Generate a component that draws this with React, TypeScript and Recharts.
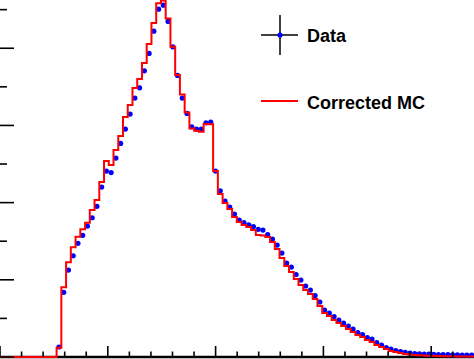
import { ComposedChart, Customized, Line, XAxis, YAxis } from "recharts";

// histogram binning (x axis units)
const BIN_WIDTH = 4.4;
const FIRST_BIN_CENTER = 54.7;
const EMPTY_BINS_BEFORE = 12;
const X_MAX = 439.7;
const Y_MAX = 9250;

const xMajorTicks = [0, 100, 200, 300, 400];
const xMinorTicks = [
  20, 40, 60, 80, 120, 140, 160, 180, 220, 240, 260, 280, 320, 340, 360, 380,
  420,
];
const yMajorTicks = [0, 2000, 4000, 6000, 8000];
const yMinorTicks = [1000, 3000, 5000, 7000, 9000];

// bin contents, first non-empty bin onwards
const correctedMC = [
  241, 1805, 2453, 2841, 3116, 3307, 3478, 3807, 4066, 4532, 5076, 4973, 5361,
  5724, 6216, 6527, 6967, 7200, 7615, 8107, 8651, 9169, 9235, 8773, 8037, 7304,
  6804, 6338, 5923, 5861, 5835, 6035, 6030, 4817, 4222, 3989, 3833, 3626, 3497,
  3419, 3367, 3289, 3160, 3150, 3108, 2979, 2797, 2564, 2357, 2202, 2020, 1865,
  1735, 1632, 1502, 1321, 1140, 1062, 958, 881, 803, 725, 648, 570, 518, 440,
  389, 311, 259, 207, 155, 130, 104, 78, 65, 52, 45, 39, 35, 30, 26, 22, 20, 18,
  15, 13, 12, 11,
];

const dataCounts = [
  259, 1676, 2253, 2624, 2945, 3152, 3393, 3608, 3903, 4403, 4817, 4779, 5154,
  5535, 5905, 6294, 6708, 6975, 7415, 7866, 8443, 9013, 9117, 8695, 8037, 7296,
  6708, 6312, 5965, 5905, 5905, 6068, 6087, 4817, 4307, 4040, 3885, 3704, 3548,
  3484, 3424, 3380, 3307, 3289, 3173, 3056, 2901, 2694, 2435, 2331, 2137, 1994,
  1839, 1735, 1593, 1425, 1217, 1140, 1049, 958, 881, 803, 725, 635, 583, 505,
  466, 376, 311, 246, 207, 168, 142, 122, 104, 91, 83, 78, 73, 67, 65, 62, 60,
  57, 54, 52, 52, 50,
];

type Row = { x: number; mc: number; data: number | null };

const rows: Row[] = [{ x: 0, mc: 0, data: null }];
for (let i = -EMPTY_BINS_BEFORE; i < correctedMC.length; i++) {
  rows.push({
    x: FIRST_BIN_CENTER + i * BIN_WIDTH,
    mc: i < 0 ? 0 : correctedMC[i],
    data: i < 0 ? null : dataCounts[i] ?? null,
  });
}
rows.push({ x: X_MAX, mc: correctedMC[correctedMC.length - 1], data: null });

const FONT = "'Liberation Sans', Arial, Helvetica, sans-serif";

// ROOT-style ticks: drawn inside the frame, long for major, short for minor
function XTick(props: any) {
  const { x, y, payload } = props;
  const len = xMajorTicks.includes(payload.value) ? 11 : 5.5;
  return <line x1={x} x2={x} y1={y} y2={y - len} stroke="#000" strokeWidth={1.6} />;
}

function YTick(props: any) {
  const { x, y, payload } = props;
  const len = yMajorTicks.includes(payload.value) ? 14 : 7;
  return <line x1={x} x2={x + len} y1={y} y2={y} stroke="#000" strokeWidth={1.6} />;
}

function LegendBox() {
  return (
    <g fontFamily={FONT} fontWeight="bold" fontSize={18} fill="#000">
      <line x1={261} x2={298} y1={35} y2={35} stroke="#000" strokeWidth={1.5} />
      <line x1={280} x2={280} y1={15} y2={55} stroke="#000" strokeWidth={1.5} />
      <circle cx={280} cy={35} r={2.6} fill="#0000ff" />
      <text x={307} y={42}>
        Data
      </text>
      <line x1={261} x2={298} y1={101} y2={101} stroke="#ff0000" strokeWidth={2} />
      <text x={307} y={108.5}>
        Corrected MC
      </text>
    </g>
  );
}

export default function App() {
  return (
    <div
      style={{
        position: "fixed",
        left: 0,
        top: 0,
        width: 474,
        height: 359,
        background: "#fff",
      }}
    >
      <ComposedChart
        width={474}
        height={359}
        data={rows}
        margin={{ top: 0, right: 0, bottom: 2, left: 0 }}
      >
        <XAxis
          dataKey="x"
          type="number"
          domain={[0, X_MAX]}
          ticks={[...xMajorTicks, ...xMinorTicks]}
          interval={0}
          tick={XTick}
          tickLine={false}
          tickSize={0}
          tickMargin={0}
          mirror
          height={20}
          axisLine={{ stroke: "#000", strokeWidth: 2.5 }}
        />
        <YAxis
          type="number"
          domain={[0, Y_MAX]}
          ticks={[...yMajorTicks, ...yMinorTicks]}
          interval={0}
          tick={YTick}
          tickLine={false}
          tickSize={0}
          tickMargin={0}
          mirror
          width={20}
          axisLine={false}
        />
        <Line
          dataKey="mc"
          type="step"
          stroke="#ff0000"
          strokeWidth={2}
          dot={false}
          activeDot={false}
          isAnimationActive={false}
          zIndex={700}
        />
        <Line
          dataKey="data"
          stroke="none"
          dot={{ r: 2.6, fill: "#0000ff", stroke: "none" }}
          activeDot={false}
          isAnimationActive={false}
          zIndex={800}
        />
        <Customized component={LegendBox} />
      </ComposedChart>
    </div>
  );
}
